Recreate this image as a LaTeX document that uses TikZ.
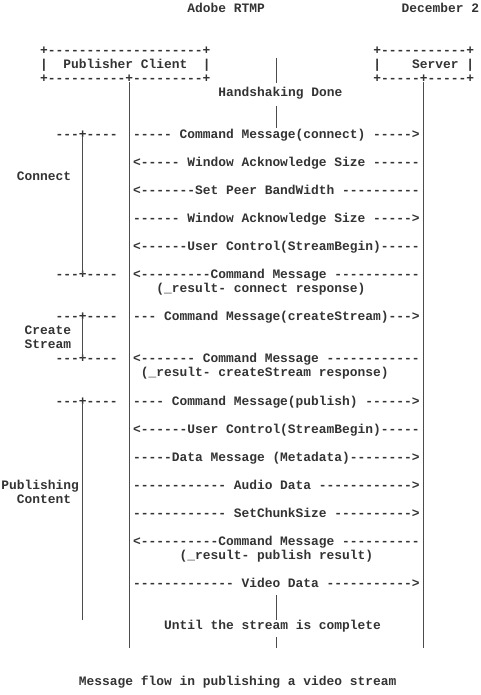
\documentclass[tikz,border=0pt]{standalone}
\usepackage{fontspec}
\setmonofont{Liberation Mono}[Ligatures=TeXOff]
\usepackage{tikz}

\begin{document}
\begin{tikzpicture}[
    x=7.75bp, y=-14.03bp,
    ascii/.style={anchor=mid west, inner sep=0pt, outer sep=0pt, text=black!80,
        font=\ttfamily\bfseries\fontsize{12.9bp}{14bp}\selectfont},
    lifeline/.style={draw=black!70, line width=0.75bp},
]
    \useasboundingbox (-16.684,-9.715) rectangle (45.252,39.82);

    % Page header
    \node[ascii] (title) at (7.5,-9) {Adobe RTMP};
    \node[ascii] (date) at (35.15,-9) {December 2};

    % Publisher box
    \node[ascii] (pubtop) at (-11.5,-6) {+--------------------+};
    \node[ascii] (publeft) at (-11.5,-5) {|};
    \node[ascii] (pubname) at (-8.5,-5) {Publisher Client};
    \node[ascii] (pubright) at (9.5,-5) {|};
    \node[ascii] (pubbottom) at (-11.5,-4) {+----------+---------+};

    % Server box
    \node[ascii] (srvtop) at (31.5,-6) {+-----------+};
    \node[ascii] (srvleft) at (31.5,-5) {|};
    \node[ascii] (srvname) at (36.5,-5) {Server};
    \node[ascii] (srvright) at (43.5,-5) {|};
    \node[ascii] (srvbottom) at (31.5,-4) {+-----+-----+};

    \node[ascii] (handshake) at (11.5,-3) {Handshaking Done};

    % Lifelines
    \coordinate (clienttop) at (0,-3.85);
    \coordinate (clientend) at (0,36.45);
    \coordinate (servertop) at (38,-3.85);
    \coordinate (serverend) at (38,36.45);
    \draw[lifeline] (clienttop) -- (clientend);
    \draw[lifeline] (servertop) -- (serverend);

    % Middle marks
    \coordinate (mid1a) at (19,-5.55);
    \coordinate (mid1b) at (19,-3.8);
    \coordinate (mid2a) at (19,-2.15);
    \coordinate (mid2b) at (19,-0.6);
    \coordinate (mid3a) at (19,32.7);
    \coordinate (mid3b) at (19,34.5);
    \coordinate (mid4a) at (19,35.7);
    \coordinate (mid4b) at (19,36.45);
    \draw[lifeline] (mid1a) -- (mid1b);
    \draw[lifeline] (mid2a) -- (mid2b);
    \draw[lifeline] (mid3a) -- (mid3b);
    \draw[lifeline] (mid4a) -- (mid4b);

    % Messages
    \node[ascii] (connect) at (0.5,0) {----- Command Message(connect) ----->};
    \node[ascii] (winack1) at (0.5,2) {<----- Window Acknowledge Size ------};
    \node[ascii] (peerbw) at (0.5,4) {<-------Set Peer BandWidth ----------};
    \node[ascii] (winack2) at (0.5,6) {------ Window Acknowledge Size ----->};
    \node[ascii] (ctrl1) at (0.5,8) {<------User Control(StreamBegin)-----};
    \node[ascii] (result1) at (0.5,10) {<---------Command Message -----------};
    \node[ascii] (result1b) at (3.5,11) {(\_result- connect response)};
    \node[ascii] (create) at (0.5,13) {--- Command Message(createStream)--->};
    \node[ascii] (result2) at (0.5,16) {<------- Command Message ------------};
    \node[ascii] (result2b) at (1.5,17) {(\_result- createStream response)};
    \node[ascii] (publish) at (0.5,19) {---- Command Message(publish) ------>};
    \node[ascii] (ctrl2) at (0.5,21) {<------User Control(StreamBegin)-----};
    \node[ascii] (meta) at (0.5,23) {-----Data Message (Metadata)-------->};
    \node[ascii] (audio) at (0.5,25) {------------ Audio Data ------------>};
    \node[ascii] (chunk) at (0.5,27) {------------ SetChunkSize ---------->};
    \node[ascii] (result3) at (0.5,29) {<----------Command Message ----------};
    \node[ascii] (result3b) at (6.5,30) {(\_result- publish result)};
    \node[ascii] (video) at (0.5,32) {------------- Video Data ----------->};
    \node[ascii] (until) at (4.5,35) {Until the stream is complete};

    % Phase brackets
    \node[ascii] (tick1) at (-9.5,0) {---+----};
    \node[ascii] (tick2) at (-9.5,10) {---+----};
    \node[ascii] (tick3) at (-9.5,13) {---+----};
    \node[ascii] (tick4) at (-9.5,16) {---+----};
    \node[ascii] (tick5) at (-9.5,19) {---+----};
    \coordinate (pubend) at (-6,34.45);
    \draw[lifeline] ([yshift=-1.4bp]tick1.center -| -6,0) -- ([yshift=1.4bp]tick2.center -| -6,0);
    \draw[lifeline] ([yshift=-1.4bp]tick3.center -| -6,0) -- ([yshift=1.4bp]tick4.center -| -6,0);
    \draw[lifeline] ([yshift=-1.4bp]tick5.center -| -6,0) -- (pubend);

    \node[ascii] (connectlabel) at (-14.5,3) {Connect};
    \node[ascii] (createlabel) at (-13.5,14) {Create};
    \node[ascii] (streamlabel) at (-13.5,15) {Stream};
    \node[ascii] (publabel) at (-16.5,25) {Publishing};
    \node[ascii] (contentlabel) at (-14.5,26) {Content};

    % Caption
    \node[ascii] (caption) at (-6.5,39) {Message flow in publishing a video stream};
\end{tikzpicture}
\end{document}
